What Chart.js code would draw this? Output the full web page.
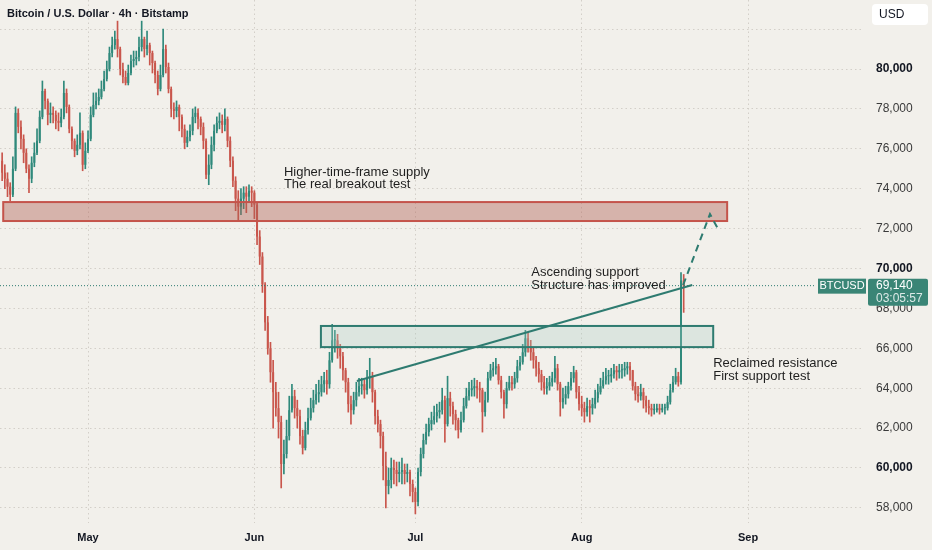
<!DOCTYPE html>
<html>
<head>
<meta charset="utf-8">
<title>BTCUSD 4h</title>
<script src="https://cdn.jsdelivr.net/npm/chart.js@4.4.1/dist/chart.umd.min.js"></script>
<style>
  html, body { margin: 0; padding: 0; background: #f2f0eb; }
  canvas { display: block; }
</style>
</head>
<body>
<canvas id="chart" width="932" height="550"></canvas>
<script>
// Prices in thousand USD, one candle per 12h, starting Apr 15 (day -16 from May 1)
const firstDay = -16;
const stepDays = 0.5;
const firstOpen = 75.4;

const close = [
  74.8,74.5,74.1,73.7,75.0,77.8,77.1,76.5,75.8,75.0,
  74.5,75.3,75.8,76.4,77.6,78.9,78.4,77.7,77.8,77.7,
  77.4,77.3,77.6,78.8,78.1,77.0,76.4,75.9,76.2,76.8,
  75.2,75.9,76.5,77.7,78.2,78.4,78.6,79.0,79.5,80.0,
  80.8,81.2,81.5,81.0,80.0,79.6,79.3,79.8,80.4,80.5,
  80.6,81.1,81.5,81.0,81.2,80.8,80.3,79.7,79.0,79.7,
  81.0,80.1,79.0,78.0,77.9,78.1,77.6,77.0,76.3,76.6,
  76.9,77.6,77.8,77.5,77.1,76.4,74.7,75.2,76.2,76.9,
  77.3,77.4,77.2,77.5,76.4,75.4,74.4,73.5,73.1,73.5,
  73.8,73.6,73.9,73.8,73.2,71.6,70.6,69.2,67.3,66.0,
  64.8,63.8,63.0,62.3,60.2,60.7,61.6,62.9,63.6,63.0,
  62.6,61.6,61.0,61.9,62.5,63.0,63.4,63.7,63.8,64.2,
  64.4,64.2,65.4,66.4,66.4,66.0,65.6,64.9,64.3,63.2,
  62.9,63.4,63.8,64.1,64.2,63.9,64.5,64.6,63.8,62.6,
  62.2,61.6,60.1,59.1,59.4,60.0,59.9,59.7,59.8,59.9,
  59.7,59.8,59.2,58.8,58.3,59.8,60.7,61.4,61.8,62.2,
  62.4,62.6,62.8,62.9,63.4,62.2,63.5,63.1,62.7,62.4,
  61.9,62.4,63.1,63.6,63.9,64.0,64.1,64.0,63.9,62.8,
  63.4,64.5,64.9,65.0,65.1,64.4,63.8,63.2,64.0,64.3,
  64.2,64.5,65.1,65.3,65.8,66.5,66.1,65.8,65.4,65.0,
  64.7,64.3,64.0,64.1,64.3,64.5,65.0,64.2,63.3,63.5,
  63.7,64.1,64.5,64.8,63.8,63.2,63.0,62.8,63.1,63.0,
  63.2,63.5,63.8,64.1,64.4,64.6,64.6,64.7,64.9,64.8,
  64.9,64.9,65.0,65.1,64.9,64.1,63.7,63.6,63.8,63.4,
  63.1,63.0,62.9,62.9,63.0,62.9,63.0,63.0,63.3,63.9,
  64.3,64.6,64.3,69.4,69.14
];

const high = [
  75.8,75.2,74.8,74.3,75.6,78.1,78.0,77.4,76.7,76.0,
  75.2,75.6,76.3,77.0,77.9,79.4,79.0,78.5,78.3,78.1,
  77.9,77.8,78.0,79.4,79.0,78.2,77.1,76.5,76.7,77.8,
  76.9,76.3,76.9,78.1,78.8,78.8,79.0,79.4,79.9,80.4,
  81.1,81.6,81.9,82.4,81.1,80.3,79.9,80.2,80.7,80.9,
  80.9,81.6,82.4,81.6,81.9,81.3,80.9,80.4,79.9,80.2,
  82.0,81.2,80.3,79.1,78.3,78.4,78.2,77.7,77.2,76.9,
  77.2,78.0,78.1,78.0,77.6,77.3,76.5,75.7,76.6,77.2,
  77.6,77.8,77.7,78.0,77.6,76.6,75.6,74.6,73.9,74.0,
  74.1,74.1,74.2,74.1,73.9,73.3,71.9,70.8,69.3,67.6,
  66.3,65.4,64.3,63.8,62.6,61.4,62.4,63.6,64.2,63.9,
  63.4,62.9,61.9,62.3,63.0,63.5,63.9,64.2,64.4,64.6,
  64.8,64.9,65.8,67.2,66.9,66.7,66.2,65.8,65.0,64.5,
  63.6,63.8,64.3,64.5,64.5,64.4,64.9,65.5,64.8,63.9,
  62.9,62.4,61.8,60.8,60.0,60.5,60.4,60.3,60.3,60.5,
  60.2,60.2,59.9,59.4,59.0,60.0,61.0,61.7,62.2,62.5,
  62.8,63.1,63.2,63.3,64.0,63.6,64.6,63.8,63.3,62.9,
  62.5,62.8,63.5,64.0,64.3,64.4,64.5,64.4,64.3,64.0,
  63.8,64.8,65.2,65.3,65.5,65.2,64.6,63.9,64.3,64.6,
  64.6,64.8,65.4,65.6,66.2,66.9,66.8,66.4,66.0,65.6,
  65.3,64.9,64.6,64.5,64.6,64.8,65.6,65.2,64.3,64.0,
  64.1,64.3,64.8,65.1,64.9,64.1,63.6,63.3,63.5,63.4,
  63.5,63.9,64.2,64.5,64.8,65.0,64.9,65.0,65.2,65.1,
  65.2,65.2,65.3,65.3,65.3,64.9,64.3,64.1,64.2,64.0,
  63.6,63.4,63.2,63.2,63.2,63.2,63.2,63.2,63.6,64.2,
  64.6,65.0,64.8,69.8,69.7
];

const low = [
  74.4,74.0,73.6,73.4,73.6,74.9,76.8,76.0,75.3,74.8,
  73.8,74.3,75.1,75.7,76.3,77.5,78.0,77.2,77.3,77.3,
  77.0,76.9,77.1,77.5,77.8,76.8,76.0,75.6,75.7,76.0,
  74.9,75.0,75.8,76.4,77.6,78.0,78.2,78.5,78.9,79.4,
  79.9,80.6,81.0,80.6,79.7,79.3,79.2,79.2,79.7,80.1,
  80.2,80.4,80.9,80.6,80.7,80.2,79.8,79.3,78.7,78.9,
  79.6,79.8,78.8,77.6,77.5,77.6,76.9,76.6,76.0,76.1,
  76.4,76.7,77.3,77.0,76.7,76.0,74.5,74.2,75.0,75.9,
  76.8,77.0,76.8,76.9,76.1,75.1,74.1,72.9,72.4,72.7,
  73.0,72.8,73.3,73.1,72.5,71.2,70.2,68.8,66.9,65.7,
  64.3,62.0,62.6,61.5,59.0,59.7,60.5,61.4,62.8,62.5,
  62.0,61.2,60.7,60.9,61.7,62.4,62.8,63.2,63.3,63.6,
  63.8,63.7,64.0,65.3,65.8,65.5,65.0,64.4,63.8,62.8,
  62.2,62.7,63.1,63.6,63.7,63.5,63.7,64.0,63.3,62.2,
  61.8,61.0,59.4,58.0,58.7,59.0,59.2,59.1,59.3,59.2,
  59.2,59.3,58.6,58.3,57.7,58.1,59.6,60.5,61.2,61.6,
  61.9,62.2,62.3,62.5,62.7,61.3,62.1,62.6,62.2,61.9,
  61.5,61.8,62.3,63.0,63.4,63.6,63.6,63.5,63.3,61.8,
  62.6,63.3,64.4,64.6,64.7,64.2,63.5,62.5,63.0,63.9,
  63.9,64.0,64.3,64.9,65.2,65.6,65.8,65.4,65.0,64.6,
  64.3,63.9,63.7,63.7,63.9,64.1,64.3,63.9,62.6,63.0,
  63.2,63.5,63.9,64.3,63.5,62.9,62.6,62.3,62.6,62.3,
  62.7,63.0,63.3,63.7,64.0,64.2,64.2,64.3,64.5,64.4,
  64.5,64.5,64.6,64.7,64.4,63.9,63.4,63.3,63.4,63.0,
  62.8,62.7,62.6,62.7,62.8,62.7,62.8,62.7,62.9,63.2,
  63.8,64.2,64.1,64.2,67.8
];

// axis ticks
const monthDays = [0, 31, 61, 92, 123];
const monthLabels = ['May', 'Jun', 'Jul', 'Aug', 'Sep'];
const yTicks = [58000, 60000, 62000, 64000, 66000, 68000, 70000, 72000, 74000, 76000, 78000, 80000, 82000];
const lastPrice = 69140;
const countdown = '03:05:57';

// drawings, in (day, USD)
const supplyZone = { x0: -15.8, x1: 119.1, y0: 72380, y1: 73330 };
const reclaimZone = { x0: 43.4, x1: 116.5, y0: 66060, y1: 67120 };
const supportLine = [[50.1, 64360], [112.6, 69170]];
const projection = [[110.9, 69170], [115.9, 72730], [117.3, 72030]];
const notes = [
  { x: 36.5, y: 74660, lines: ['Higher-time-frame supply', 'The real breakout test'] },
  { x: 82.6, y: 69620, lines: ['Ascending support', 'Structure has improved'] },
  { x: 116.5, y: 65060, lines: ['Reclaimed resistance', 'First support test'] }
];

const GREEN = '#2f897b';
const RED = '#c9564c';
const TEAL = '#2e7b70';
const FONT = '"Liberation Sans", Arial, sans-serif';
const gridColor = '#d3cfc8';

const open = close.map((c, i) => (i === 0 ? firstOpen : close[i - 1]));
const days = close.map((c, i) => firstDay + i * stepDays);
const colors = close.map((c, i) => (c >= open[i] ? GREEN : RED));

const wicks = days.map((d, i) => ({ x: d, y: [low[i] * 1000, high[i] * 1000] }));
const bodies = days.map((d, i) => ({ x: d, y: [open[i] * 1000, close[i] * 1000] }));

const background = {
  id: 'background',
  beforeDraw(chart) {
    const ctx = chart.ctx;
    ctx.save();
    ctx.fillStyle = '#f2f0eb';
    ctx.fillRect(0, 0, chart.width, chart.height);
    ctx.restore();
  }
};

function roundRect(ctx, x, y, w, h, r) {
  ctx.beginPath();
  ctx.moveTo(x + r, y);
  ctx.arcTo(x + w, y, x + w, y + h, r);
  ctx.arcTo(x + w, y + h, x, y + h, r);
  ctx.arcTo(x, y + h, x, y, r);
  ctx.arcTo(x, y, x + w, y, r);
  ctx.closePath();
}

const drawings = {
  id: 'drawings',
  afterDatasetsDraw(chart) {
    const { ctx, chartArea } = chart;
    const sx = chart.scales.x, sy = chart.scales.y;
    const px = (v) => sx.getPixelForValue(v);
    const py = (v) => sy.getPixelForValue(v);
    ctx.save();

    // last price line
    ctx.strokeStyle = TEAL;
    ctx.lineWidth = 1;
    ctx.setLineDash([1, 2]);
    ctx.beginPath();
    ctx.moveTo(chartArea.left, py(lastPrice));
    ctx.lineTo(chartArea.right - 48, py(lastPrice));
    ctx.stroke();
    ctx.setLineDash([]);

    // zones
    const zone = (z, fill, stroke) => {
      const x = px(z.x0), y = py(z.y1);
      const w = px(z.x1) - x, h = py(z.y0) - y;
      ctx.fillStyle = fill;
      ctx.fillRect(x, y, w, h);
      ctx.strokeStyle = stroke;
      ctx.lineWidth = 2;
      ctx.strokeRect(x, y, w, h);
    };
    zone(supplyZone, 'rgba(176, 96, 84, 0.42)', '#c4544b');
    zone(reclaimZone, 'rgba(170, 205, 195, 0.3)', TEAL);

    // ascending support
    ctx.strokeStyle = TEAL;
    ctx.lineWidth = 2;
    ctx.beginPath();
    ctx.moveTo(px(supportLine[0][0]), py(supportLine[0][1]));
    ctx.lineTo(px(supportLine[1][0]), py(supportLine[1][1]));
    ctx.stroke();

    // dashed projection
    ctx.setLineDash([7, 5]);
    ctx.beginPath();
    projection.forEach((p, i) => {
      if (i === 0) ctx.moveTo(px(p[0]), py(p[1]));
      else ctx.lineTo(px(p[0]), py(p[1]));
    });
    ctx.stroke();
    ctx.setLineDash([]);

    // notes
    ctx.fillStyle = '#1f1f1f';
    ctx.font = '13px ' + FONT;
    ctx.textBaseline = 'alphabetic';
    notes.forEach((n) => {
      n.lines.forEach((line, k) => {
        ctx.fillText(line, px(n.x), py(n.y) + k * 12.5);
      });
    });
    ctx.restore();
  },
  afterDraw(chart) {
    const { ctx, chartArea } = chart;
    const y = chart.scales.y.getPixelForValue(lastPrice);
    ctx.save();

    // symbol tag
    ctx.fillStyle = '#3a8576';
    ctx.fillRect(chartArea.right - 46, y - 7, 48, 15);
    ctx.fillStyle = '#ffffff';
    ctx.font = '11px ' + FONT;
    ctx.textAlign = 'center';
    ctx.textBaseline = 'middle';
    ctx.fillText('BTCUSD', chartArea.right - 22, y + 0.5);

    // price tag
    roundRect(ctx, chartArea.right + 4, y - 7, 60, 27, 2);
    ctx.fillStyle = '#3a8576';
    ctx.fill();
    ctx.textAlign = 'left';
    ctx.fillStyle = '#ffffff';
    ctx.font = '12px ' + FONT;
    ctx.fillText(lastPrice.toLocaleString('en-US'), chartArea.right + 12, y + 0.5);
    ctx.fillStyle = 'rgba(255,255,255,0.82)';
    ctx.fillText(countdown, chartArea.right + 12, y + 13);

    // currency button
    roundRect(ctx, chartArea.right + 8, 4, 56, 21, 4);
    ctx.fillStyle = '#ffffff';
    ctx.fill();
    ctx.fillStyle = '#131722';
    ctx.font = '12px ' + FONT;
    ctx.fillText('USD', chartArea.right + 15, 14.5);

    // title
    ctx.font = 'bold 11px ' + FONT;
    ctx.fillStyle = '#131722';
    ctx.fillText('Bitcoin / U.S. Dollar \u00b7 4h \u00b7 Bitstamp', 7, 14);
    ctx.restore();
  }
};

const isRound = (c) => c.tick && c.tick.value % 10000 === 0;
const noPadding = (s) => {
  s.paddingTop = 0;
  s.paddingBottom = 0;
  s.paddingLeft = 0;
  s.paddingRight = 0;
};

new Chart(document.getElementById('chart'), {
  type: 'bar',
  data: {
    datasets: [
      {
        data: wicks,
        backgroundColor: colors,
        barThickness: 1,
        grouped: false,
        order: 2
      },
      {
        data: bodies,
        backgroundColor: colors,
        barPercentage: 0.75,
        categoryPercentage: 1,
        minBarLength: 1,
        grouped: false,
        order: 1
      }
    ]
  },
  options: {
    responsive: false,
    animation: false,
    layout: { padding: 0 },
    plugins: { legend: { display: false }, tooltip: { enabled: false } },
    scales: {
      x: {
        type: 'linear',
        min: -16.4,
        max: 144.6,
        offset: false,
        afterBuildTicks: (s) => { s.ticks = monthDays.map((v) => ({ value: v })); },
        afterFit: (s) => { s.height = 27; noPadding(s); },
        grid: { color: gridColor, drawTicks: false, offset: false },
        border: { display: false, dash: [1.5, 3] },
        ticks: {
          autoSkip: false,
          maxRotation: 0,
          padding: 8,
          color: '#131722',
          font: { family: FONT, size: 11, weight: 'bold' },
          callback: (v) => monthLabels[monthDays.indexOf(v)]
        }
      },
      y: {
        position: 'right',
        min: 57243,
        max: 83459,
        afterBuildTicks: (s) => { s.ticks = yTicks.map((v) => ({ value: v })); },
        afterFit: (s) => { s.width = 68; noPadding(s); },
        grid: { color: gridColor, drawTicks: false },
        border: { display: false, dash: [1.5, 3] },
        ticks: {
          padding: 12,
          color: (c) => (isRound(c) ? '#131722' : '#3a3a3a'),
          font: (c) => ({ family: FONT, size: 12, weight: isRound(c) ? 'bold' : 'normal' }),
          callback: (v) => (v === 82000 ? '' : v.toLocaleString('en-US'))
        }
      }
    }
  },
  plugins: [background, drawings]
});
</script>
</body>
</html>
